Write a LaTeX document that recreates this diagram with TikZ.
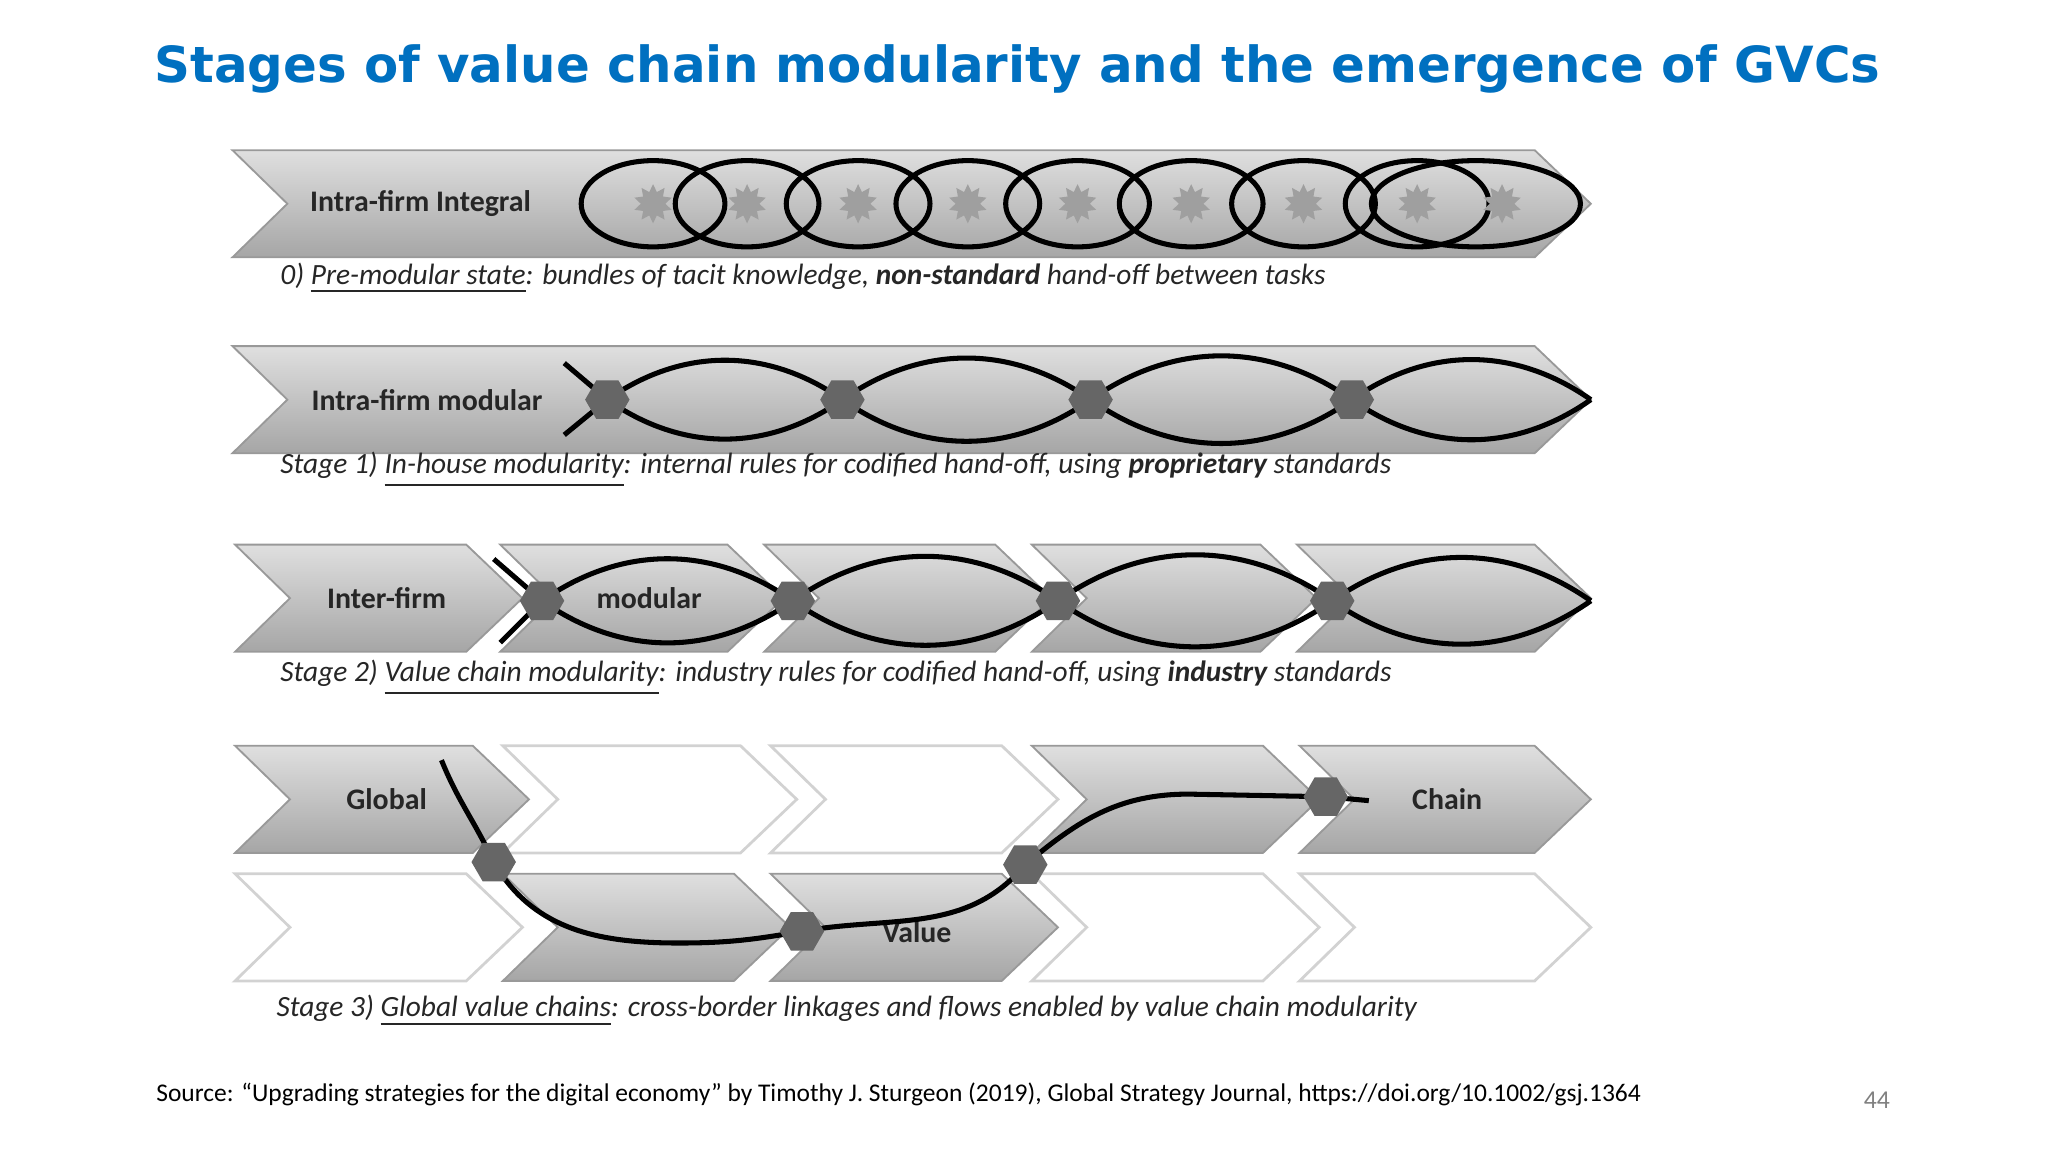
\documentclass[tikz,border=0pt]{standalone}
\usepackage{fontspec}
\setmainfont{Carlito}
\newfontfamily\titlefont{DejaVu Sans}
\usetikzlibrary{shapes.geometric}
\definecolor{ttl}{RGB}{0,112,192}
\newcommand\mychev[5]{% x1 x2 ytop ybot style
  \path[#5] (#1,#3) -- (#2-43,#3) -- (#2,{(#3+#4)/2}) -- (#2-43,#4) -- (#1,#4) -- (#1+42,{(#3+#4)/2}) -- cycle;}
\begin{document}
\begin{tikzpicture}[x=0.01cm,y=-0.01cm,
  gch/.style={top color=gray!25,bottom color=gray!70,draw=gray!80,line width=0.4pt},
  wch/.style={fill=white,draw=gray!35,line width=0.6pt},
  hex/.style={regular polygon,regular polygon sides=6,fill=gray!80!black,minimum size=0.34cm,inner sep=0pt},
  lens/.style={line width=1.1pt,black},
  lbl/.style={font=\bfseries\fontsize{6.5}{7}\selectfont,text=black!85},
  captxt/.style={font=\itshape\fontsize{6.4}{7}\selectfont,anchor=west,inner sep=0pt,text=black!85},
  mystar/.style={star,star points=10,star point ratio=1.6,fill=gray!75,minimum size=0.3cm,inner sep=0pt}]
\useasboundingbox (0,0) rectangle (1568,882);
\node[font=\titlefont\bfseries\fontsize{10.85}{12}\selectfont,text=ttl] (title) at (779,53) {Stages of value chain modularity and the emergence of GVCs};
% Row 0
\mychev{178}{1218}{115}{197}{gch}
\node[lbl] (l0) at (322,156) {Intra-firm Integral};
\foreach \i/\x in {1/500,2/572,3/657,4/741,5/825,6/912,7/998,8/1085}{
  \node[mystar] (s\i) at (\x,156) {};
  \node[ellipse,draw,line width=1.1pt,minimum width=1.1cm,minimum height=0.66cm] (e\i) at (\x,156) {};}
\node[mystar] (s9) at (1150,156) {};
\node[ellipse,draw,line width=1.1pt,minimum width=1.6cm,minimum height=0.66cm] (e9) at (1130,156) {};
\node[captxt] (c0) at (214,213) {0) \underline{Pre-modular state}: bundles of tacit knowledge, \textbf{non-standard} hand-off between tasks};
% Row 1
\mychev{178}{1218}{265}{347}{gch}
\node[lbl] (l1) at (327,306) {Intra-firm modular};
\coordinate (a0) at (432,278); \coordinate (b0) at (432,333);
\coordinate (h1) at (465,306); \coordinate (h2) at (645,306); \coordinate (h3) at (835,306); \coordinate (h4) at (1035,306); \coordinate (h5) at (1218,306);
\draw[lens] (a0) -- (h1) -- (b0);
\foreach \p/\q in {h1/h2,h2/h3,h3/h4,h4/h5}{
  \draw[lens] (\p) to[out=35,in=145] (\q);
  \draw[lens] (\p) to[out=-35,in=-145] (\q);}
\foreach \p in {h1,h2,h3,h4}{\node[hex] (n\p) at (\p) {};}
\node[captxt] (c1) at (214,360) {Stage 1) \underline{In-house modularity}: internal rules for codified hand-off, using \textbf{proprietary} standards};
% Row 2
\mychev{180}{400}{417}{499}{gch}
\mychev{383}{600}{417}{499}{gch}
\mychev{585}{805}{417}{499}{gch}
\mychev{790}{1008}{417}{499}{gch}
\mychev{993}{1218}{417}{499}{gch}
\node[lbl] (l2a) at (296,458) {Inter-firm};
\coordinate (a1) at (378,428); \coordinate (b1) at (383,492);
\coordinate (k1) at (415,460); \coordinate (k2) at (607,460); \coordinate (k3) at (810,460); \coordinate (k4) at (1020,460); \coordinate (k5) at (1218,460);
\draw[lens] (a1) -- (k1) -- (b1);
\foreach \p/\q in {k1/k2,k2/k3,k3/k4,k4/k5}{
  \draw[lens] (\p) to[out=35,in=145] (\q);
  \draw[lens] (\p) to[out=-35,in=-145] (\q);}
\foreach \p in {k1,k2,k3,k4}{\node[hex] (n\p) at (\p) {};}
\node[lbl] (l2b) at (497,458) {modular};
\node[captxt] (c2) at (214,519) {Stage 2) \underline{Value chain modularity}: industry rules for codified hand-off, using \textbf{industry} standards};
% Row 3
\mychev{180}{405}{571}{653}{gch}
\mychev{385}{610}{571}{653}{wch}
\mychev{590}{810}{571}{653}{wch}
\mychev{790}{1010}{571}{653}{gch}
\mychev{995}{1218}{571}{653}{gch}
\mychev{180}{400}{669}{751}{wch}
\mychev{385}{605}{669}{751}{gch}
\mychev{590}{810}{669}{751}{gch}
\mychev{790}{1010}{669}{751}{wch}
\mychev{995}{1218}{669}{751}{wch}
\node[lbl] (l3a) at (296,612) {Global};
\node[lbl] (l3b) at (1108,612) {Chain};
\node[lbl] (l3c) at (702,714) {Value};
\coordinate (g0) at (338,582); \coordinate (g1) at (378,660); \coordinate (g2) at (614,713);
\coordinate (g3) at (785,662); \coordinate (g4) at (1015,610); \coordinate (g5) at (1048,613);
\draw[lens] (g0) to[out=-68,in=115] (g1) to[out=-60,in=180] (520,722) to[out=0,in=190] (g2)
  to[out=10,in=-130] (g3) to[out=40,in=180] (910,608) -- (g4) -- (g5);
\foreach \p in {g1,g2,g3,g4}{\node[hex] (n\p) at (\p) {};}
\node[captxt] (c3) at (211,774) {Stage 3) \underline{Global value chains}: cross-border linkages and flows enabled by value chain modularity};
% footer
\node[anchor=west,inner sep=0pt,font=\fontsize{5.55}{7}\selectfont] (src) at (119,838) {Source: “Upgrading strategies for the digital economy” by Timothy J. Sturgeon (2019), Global Strategy Journal, https://doi.org/10.1002/gsj.1364};
\node[font=\fontsize{5.6}{7}\selectfont,text=gray] (pg) at (1437,842) {44};
\end{tikzpicture}
\end{document}
